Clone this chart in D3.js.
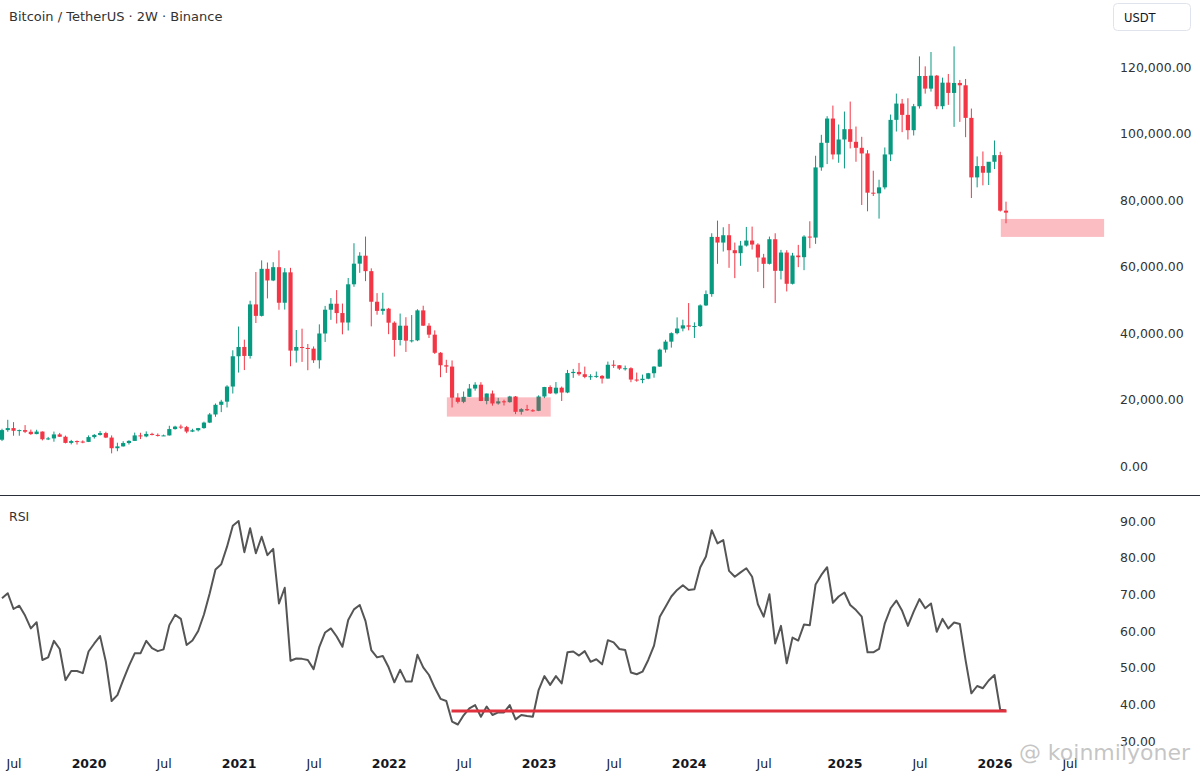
<!DOCTYPE html>
<html>
<head>
<meta charset="utf-8">
<script src="https://cdn.jsdelivr.net/npm/d3@7"></script>
<style>
  body { margin: 0; background: #fff; }
  svg { display: block; font-family: "DejaVu Sans", sans-serif; }
</style>
</head>
<body>
<svg width="1200" height="777"></svg>
<script>
// BTC/USDT two-week candles (USDT)
const opens = [
  7900, 10800, 11400, 10600, 10800, 10300, 9600, 10350, 8050, 8300,
  9500, 8800, 6950, 7500, 7350, 7250, 8700, 9350, 9900, 8550,
  5350, 5900, 6900, 7550, 9200, 8900, 9650, 9350, 9100, 9200,
  11100, 11850, 11700, 10350, 10750, 11400, 13050, 15500, 18400, 19350,
  23900, 33000, 35800, 33100, 48600, 45150, 59300, 55800, 59800, 49100,
  58250, 34700, 35800, 35500, 35300, 31800, 39850, 47000, 48800, 46000,
  43150, 54650, 60850, 63250, 58600, 49400, 46650, 47300, 43100, 37900,
  42200, 37700, 37800, 46800, 42200, 39500, 34050, 30300, 29900, 20550,
  19300, 20800, 23300, 24450, 19550, 21800, 18800, 19450, 19200, 20900,
  16300, 17100, 16750, 16600, 20900, 23750, 21850, 23550, 22100, 27950,
  28300, 27600, 26800, 27000, 27100, 26300, 30450, 30300, 29300, 29400,
  26000, 25850, 26250, 27900, 29900, 35000, 37400, 39950, 41350, 42300,
  41900, 42100, 48300, 51700, 68900, 67200, 69400, 64900, 64000, 66300,
  67800, 66600, 62700, 60800, 68200, 58700, 64200, 54800, 63300, 62800,
  69000, 68700, 89800, 97200, 104500, 93700, 98200, 101300, 97500, 95700,
  94000, 82200, 82000, 83800, 93700, 104100, 109000, 105600, 101000, 108200,
  117300, 113500, 117400, 108200, 115300, 112200, 115200, 114500, 104700, 86800,
  90200, 88200, 91500, 93500, 76800
];
const highs = [
  11200, 13900, 13200, 10950, 12300, 10950, 10900, 10400, 8750, 10350,
  9950, 9150, 7850, 7700, 7700, 9200, 9600, 10500, 10300, 9200,
  7000, 7450, 7750, 10050, 10000, 10400, 10000, 9800, 9450, 12100,
  12100, 12450, 12050, 11200, 11450, 13350, 15950, 18800, 19900, 24300,
  34800, 41950, 38000, 49700, 58350, 61850, 61200, 61300, 64850, 59500,
  59600, 40900, 41300, 36700, 35950, 42600, 48150, 50500, 52900, 48850,
  56550, 67000, 64300, 69000, 59450, 52000, 52100, 47550, 43500, 45850,
  44750, 45400, 47150, 48200, 42950, 40800, 34250, 31950, 31750, 21900,
  22400, 24650, 25200, 25200, 21800, 22700, 20500, 19950, 21100, 21050,
  17400, 18400, 17100, 21250, 23800, 24250, 25250, 23900, 28900, 29200,
  31000, 29900, 27600, 28400, 27350, 31400, 31800, 30350, 30200, 29700,
  28100, 27500, 28000, 30000, 35300, 37950, 40200, 44700, 44000, 49000,
  43200, 48600, 52800, 70000, 73800, 71800, 72800, 67200, 67700, 71900,
  72000, 67000, 63800, 69000, 70000, 65000, 64900, 64100, 66500, 69400,
  73600, 93300, 99600, 105200, 108400, 102700, 106600, 109600, 102100, 99000,
  95000, 88800, 86100, 95800, 105700, 112000, 110400, 110600, 108900, 123200,
  120200, 124500, 117600, 116800, 117900, 126200, 116100, 116400, 107500, 93100,
  94600, 90600, 97900, 94500, 79500
];
const lows = [
  7500, 10300, 9100, 9100, 9900, 9350, 9550, 7700, 7800, 7300,
  8750, 6800, 6500, 6450, 6850, 7200, 8250, 9150, 8400, 3800,
  4450, 5850, 6450, 7550, 8100, 8650, 9200, 8850, 9050, 9150,
  10950, 11100, 9850, 10200, 10400, 11200, 12900, 14800, 16200, 17600,
  21800, 28100, 28850, 32300, 43000, 44950, 50400, 55600, 47000, 47050,
  30000, 31100, 31300, 28800, 31000, 29300, 37300, 43950, 42850, 39600,
  40750, 53900, 58100, 55600, 42000, 45500, 45500, 39650, 32900, 36250,
  34300, 37150, 37550, 42100, 38500, 33700, 26700, 28000, 17600, 18800,
  18900, 20750, 22650, 19500, 18550, 18150, 18450, 18200, 19050, 15600,
  15450, 16550, 16300, 16500, 20400, 21650, 21550, 19550, 21900, 26500,
  27150, 26400, 25900, 26500, 24800, 26250, 29500, 28900, 28700, 25200,
  25350, 24900, 26100, 26550, 29800, 34100, 35600, 39600, 40500, 40800,
  38500, 41800, 48100, 50900, 60800, 64500, 59600, 56500, 60200, 66000,
  65100, 58400, 53500, 60600, 49000, 56100, 52500, 54600, 59800, 58900,
  65500, 66800, 88800, 90800, 92200, 91200, 89500, 95500, 91500, 78500,
  76600, 81200, 74400, 83200, 91700, 100600, 100400, 98200, 99400, 107500,
  112000, 112600, 107300, 107300, 108600, 102000, 103500, 98900, 80600, 83800,
  84400, 84500, 89300, 76500, 73000
];
const closes = [
  10800, 11400, 10600, 10800, 10300, 9600, 10350, 8050, 8300, 9500,
  8800, 6950, 7500, 7350, 7250, 8700, 9350, 9900, 8550, 5350,
  5900, 6900, 7550, 9200, 8900, 9650, 9350, 9100, 9200, 11100,
  11850, 11700, 10350, 10750, 11400, 13050, 15500, 18400, 19350, 23900,
  33000, 35800, 33100, 48600, 45150, 59300, 55800, 59800, 49100, 58250,
  34700, 35800, 35500, 35300, 31800, 39850, 47000, 48800, 46000, 43150,
  54650, 60850, 63250, 58600, 49400, 46650, 47300, 43100, 37900, 42200,
  37700, 37800, 46800, 42200, 39500, 34050, 30300, 29900, 20550, 19300,
  20800, 23300, 24450, 19550, 21800, 18800, 19450, 19200, 20900, 16300,
  17100, 16750, 16600, 20900, 23750, 21850, 23550, 22100, 27950, 28300,
  27600, 26800, 27000, 27100, 26300, 30450, 30300, 29300, 29400, 26000,
  25850, 26250, 27900, 29900, 35000, 37400, 39950, 41350, 42300, 41900,
  42100, 48300, 51700, 68900, 67200, 69400, 64900, 64000, 66300, 67800,
  66600, 62700, 60800, 68200, 58700, 64200, 54800, 63300, 62800, 69000,
  68700, 89800, 97200, 104500, 93700, 98200, 101300, 97500, 95700, 94000,
  82200, 82000, 83800, 93700, 104100, 109000, 105600, 101000, 108200, 117300,
  113500, 117400, 108200, 115300, 112200, 115200, 114500, 104700, 86800, 90200,
  88200, 91500, 93500, 76800, 76200
];
// RSI per bar
const rsi = [
  68.9, 70.3, 66.0, 66.9, 64.2, 60.7, 62.4, 52.1, 52.8, 57.3,
  55.1, 46.6, 49.1, 49.1, 48.5, 54.4, 56.6, 58.6, 51.6, 40.9,
  42.5, 46.6, 50.5, 53.9, 53.9, 57.3, 55.3, 54.5, 55.0, 61.6,
  64.4, 63.3, 56.2, 57.4, 60.0, 64.5, 70.3, 76.8, 78.2, 83.0,
  88.7, 90.0, 81.5, 88.0, 81.2, 85.7, 80.7, 82.4, 67.5, 71.8,
  51.9, 52.5, 52.4, 52.1, 49.6, 55.7, 59.6, 60.7, 58.5, 55.7,
  63.0, 65.9, 67.1, 62.7, 54.8, 52.8, 53.2, 50.1, 46.0, 49.4,
  46.2, 46.2, 53.5, 50.1, 48.0, 44.5, 41.5, 40.9, 35.3, 34.5,
  37.0, 38.9, 39.8, 36.6, 39.4, 37.1, 37.8, 37.8, 39.8, 35.9,
  37.1, 36.8, 36.6, 43.9, 47.7, 45.3, 47.7, 45.7, 54.2, 54.4,
  53.3, 54.5, 51.6, 52.3, 50.9, 57.5, 56.9, 55.1, 54.8, 48.7,
  48.2, 48.9, 52.1, 56.0, 63.9, 66.6, 69.4, 71.2, 72.5, 71.2,
  71.4, 77.3, 80.3, 87.5, 83.9, 84.8, 76.4, 74.8, 76.0, 77.1,
  74.8, 67.3, 63.9, 70.0, 56.6, 61.4, 51.2, 58.2, 57.4, 61.8,
  61.6, 72.7, 75.3, 77.4, 67.7, 69.4, 70.5, 67.1, 65.7, 63.9,
  54.2, 54.2, 55.1, 62.1, 66.2, 68.3, 65.5, 61.4, 65.3, 68.7,
  66.2, 67.5, 59.8, 63.3, 60.7, 62.3, 61.9, 52.0, 43.0, 45.0,
  44.4, 46.5, 48.0, 38.5, 38.3
];

const priceTicks = [0, 20000, 40000, 60000, 80000, 100000, 120000];
const rsiTicks = [30, 40, 50, 60, 70, 80, 90];
// bar index under each time label
const timeTickBars = [2, 15, 28, 41, 54, 67, 80, 93, 106, 119, 132, 146, 159, 172, 185];
const timeTickLabels = ['Jul', '2020', 'Jul', '2021', 'Jul', '2022', 'Jul', '2023',
                        'Jul', '2024', 'Jul', '2025', 'Jul', '2026', 'Jul'];

// drawn zones: [from bar, to bar], [low, high]
const zoneBars = [[77.1, 95.1], [173.1, 191]];
const zonePrices = [[14850, 20650], [68900, 74300]];
// support level on the RSI
const rsiLevel = 38.2;
const rsiLevelBars = [77.9, 174.1];

const up = '#089981', down = '#f23645';

const svg = d3.select('svg');
svg.append('rect').attr('width', 1200).attr('height', 777).attr('fill', '#fff');

const x = d3.scaleLinear().domain([0, 174]).range([2, 1006]);
const y = d3.scaleLinear().domain([0, 120000]).range([466, 67]);
const yR = d3.scaleLinear().domain([30, 90]).range([741, 521]);

svg.append('clipPath').attr('id', 'plot')
  .append('rect').attr('x', 0).attr('y', 0).attr('width', 1110).attr('height', 777);

// candles
const bars = d3.range(opens.length);
const candles = svg.append('g').attr('clip-path', 'url(#plot)')
  .selectAll('g').data(bars).enter().append('g');

candles.append('line')
  .attr('x1', i => x(i)).attr('x2', i => x(i))
  .attr('y1', i => y(highs[i])).attr('y2', i => y(lows[i]))
  .attr('stroke', i => closes[i] >= opens[i] ? up : down)
  .attr('stroke-width', 1);

candles.append('rect')
  .attr('x', i => x(i) - 2.1)
  .attr('width', 4.2)
  .attr('y', i => y(Math.max(opens[i], closes[i])))
  .attr('height', i => Math.max(1, Math.abs(y(opens[i]) - y(closes[i]))))
  .attr('fill', i => closes[i] >= opens[i] ? up : down);

// zones
svg.append('g').selectAll('rect').data(zoneBars).enter().append('rect')
  .attr('x', d => x(d[0]))
  .attr('width', d => x(d[1]) - x(d[0]))
  .attr('y', (d, i) => y(zonePrices[i][1]))
  .attr('height', (d, i) => y(zonePrices[i][0]) - y(zonePrices[i][1]))
  .attr('fill', down)
  .attr('fill-opacity', 0.33);

// pane separator
svg.append('line')
  .attr('x1', 0).attr('x2', 1200).attr('y1', 495.5).attr('y2', 495.5)
  .attr('stroke', '#2a2e39').attr('stroke-width', 1.2);

// RSI
const rsiLine = d3.line().x((d, i) => x(i)).y(d => yR(d));
svg.append('path')
  .attr('d', rsiLine(rsi))
  .attr('fill', 'none')
  .attr('stroke', '#555555')
  .attr('stroke-width', 2)
  .attr('stroke-linejoin', 'round');

svg.append('line')
  .attr('x1', x(rsiLevelBars[0])).attr('x2', x(rsiLevelBars[1]))
  .attr('y1', yR(rsiLevel)).attr('y2', yR(rsiLevel))
  .attr('stroke', '#e0313e').attr('stroke-width', 3);

// axes
const priceAxis = d3.axisRight(y).tickValues(priceTicks)
  .tickFormat(d3.format(',.2f')).tickSize(0).tickPadding(0);
const rsiAxis = d3.axisRight(yR).tickValues(rsiTicks)
  .tickFormat(d3.format('.2f')).tickSize(0).tickPadding(0);
const timeAxis = d3.axisBottom(x).tickValues(timeTickBars)
  .tickFormat((d, i) => timeTickLabels[i]).tickSize(0).tickPadding(0);

const pAxisG = svg.append('g').attr('transform', 'translate(1120,0)').call(priceAxis);
const rAxisG = svg.append('g').attr('transform', 'translate(1120,0)').call(rsiAxis);
const tAxisG = svg.append('g').attr('transform', 'translate(0,759)').call(timeAxis);

[pAxisG, rAxisG, tAxisG].forEach(g => {
  g.select('.domain').remove();
  g.selectAll('text')
    .attr('font-family', '"DejaVu Sans", sans-serif')
    .attr('font-size', 12.5)
    .attr('fill', '#333');
});
tAxisG.selectAll('text')
  .attr('fill', '#131722')
  .attr('font-weight', d => timeTickLabels[timeTickBars.indexOf(d)] === 'Jul' ? 'normal' : 'bold');

// labels
svg.append('text').attr('x', 9).attr('y', 21)
  .attr('font-size', 13).attr('fill', '#333')
  .text('Bitcoin / TetherUS · 2W · Binance');

svg.append('text').attr('x', 9).attr('y', 521)
  .attr('font-size', 12.5).attr('fill', '#333')
  .text('RSI');

svg.append('rect')
  .attr('x', 1113.5).attr('y', 3.5).attr('width', 77).attr('height', 27).attr('rx', 4)
  .attr('fill', '#fff').attr('stroke', '#e0e3eb');
svg.append('text').attr('x', 1124).attr('y', 21.5)
  .attr('font-size', 11.5).attr('fill', '#131722')
  .text('USDT');

// watermark
svg.append('text').attr('x', 1190).attr('y', 760)
  .attr('text-anchor', 'end')
  .attr('font-size', 22).attr('fill', '#bbbbbb').attr('fill-opacity', 0.85)
  .text('@ koinmilyoner');
</script>
</body>
</html>
